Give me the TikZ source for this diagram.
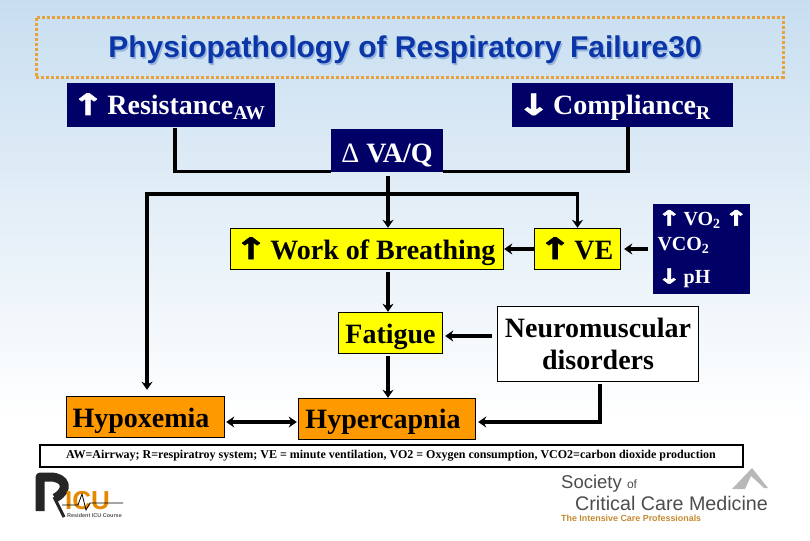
\documentclass[tikz,border=0pt]{standalone}
\usepackage{fontspec}
\setmainfont{Liberation Serif}
\setsansfont{Liberation Sans}
\newfontfamily\arrowfont[FakeBold=2]{DejaVu Sans}
\usepackage{tikz}
\usetikzlibrary{arrows.meta,positioning,calc}
\definecolor{navyc}{HTML}{000066}
\definecolor{yelc}{HTML}{FFFF00}
\definecolor{orgc}{HTML}{FF9900}
\definecolor{dotc}{HTML}{E5A33A}
\definecolor{titc}{HTML}{0A36A8}
\definecolor{bgtop}{HTML}{C8DEF0}
\newcommand{\up}{\scalebox{1.4}[1.05]{\arrowfont ↑}\hspace{-4pt}}
\newcommand{\dn}{\scalebox{1.4}[1.05]{\arrowfont ↓}\hspace{-4pt}}
\tikzset{
  >={Stealth[length=8pt,width=11pt]},
  box/.style={draw=black,line width=1.4pt,inner sep=0pt,font=\bfseries\fontsize{28}{32}\selectfont},
  tx/.style={text height=20pt,text depth=0pt},
  navybox/.style={box,draw=navyc,fill=navyc,text=white},
  yelbox/.style={box,tx,fill=yelc},
  orgbox/.style={box,tx,fill=orgc},
  lk/.style={draw=black,line width=3.5pt},
  lkh/.style={lk,->},
  tit/.style={anchor=base,inner sep=0pt,font=\sffamily\bfseries\fontsize{30}{34}\selectfont},
}
\begin{document}
\begin{tikzpicture}[x=1pt,y=-1pt]
  \useasboundingbox (0,0) rectangle (810,540);
  \fill[top color=bgtop,bottom color=white] (0,0) rectangle (810,420);
  \node[draw=dotc,line width=3pt,dotted,minimum width=747pt,minimum height=60pt] (frame) at (409.5,47.5) {};
  \node[tit,text=titc!25!bgtop] (shadow) at (406.5,59.5) {Physiopathology of Respiratory Failure30};
  \node[tit,text=titc] (title) at (405,58) {Physiopathology of Respiratory Failure30};
  \node[navybox,tx,minimum width=206pt,minimum height=42pt] (res) at (171,105) {\up\ Resistance\textsubscript{AW}\kern5pt};
  \node[navybox,tx,minimum width=219pt,minimum height=42pt] (cmp) at (622.5,105) {\dn\ Compliance\textsubscript{R}\kern17pt};
  \node[navybox,text height=25pt,text depth=0pt,minimum width=110pt,minimum height=41pt] (vaq) at (387,150.5) {{\normalfont Δ} VA/Q};
  \node[yelbox,minimum width=273pt,minimum height=41pt] (wob) at (367,249) {\up\ Work of Breathing\kern4pt};
  \node[yelbox,minimum width=86pt,minimum height=41pt] (ve) at (577.5,249) {\up\ VE\kern3pt};
  \node[navybox,minimum width=96pt,minimum height=89pt,text width=88pt,align=left,font=\bfseries\fontsize{20}{25}\selectfont] (gas) at (701.5,249) {\mbox{\up\ VO\textsubscript{2}\kern-3pt\ \up}\\ VCO\textsubscript{2}\\[8pt] \dn\ pH};
  \node[yelbox,minimum width=104pt,minimum height=41pt] (fat) at (390.5,333) {Fatigue};
  \node[box,fill=white,align=center,minimum width=201pt,minimum height=75pt] (nmd) at (598,344) {Neuromuscular\\disorders};
  \node[orgbox,minimum width=158pt,minimum height=41pt] (hox) at (145.5,417) {Hypoxemia\kern9pt};
  \node[orgbox,text height=18pt,minimum width=177pt,minimum height=41pt] (hcp) at (387,419) {Hypercapnia\kern8pt};
  \node[draw=black,line width=2pt,fill=white,minimum width=703pt,minimum height=22pt,inner sep=0pt,font=\bfseries\fontsize{12}{13}\selectfont] (key) at (391,455.5) {AW=Airrway; R=respiratroy system; VE = minute ventilation, VO2 = Oxygen consumption, VCO2=carbon dioxide production};
  % upper lines
  \coordinate (bus) at (388,194);
  \draw[lk] ([xshift=4pt,yshift=-1pt]res.south) |- (vaq.south west);
  \draw[lk] (vaq.south east) -| ([xshift=5.5pt]cmp.south);
  \draw[lkh] ([xshift=1pt,yshift=-4pt]vaq.south) -- ([xshift=21pt]wob.north);
  \draw[lkh] (bus) -| ([xshift=1.5pt,yshift=6pt]hox.north);
  \draw[lkh] (bus) -| (ve.north);
  % lower lines
  \draw[lkh] (ve.west) -- (wob.east);
  \draw[lkh] ([xshift=-5pt]gas.west) -- ([xshift=3pt]ve.east);
  \draw[lkh] ([xshift=21pt,yshift=-2pt]wob.south) -- ([xshift=-2.5pt]fat.north);
  \draw[lkh] ([xshift=-2.5pt,yshift=-2pt]fat.south) -- ([xshift=1pt]hcp.north);
  \draw[lkh] ([xshift=-5pt,yshift=8pt]nmd.west) -- ([xshift=2pt,yshift=-3pt]fat.east);
  \draw[lkh,<->] ([xshift=1pt,yshift=-5pt]hox.east) -- ([xshift=-1pt,yshift=-3pt]hcp.west);
  \draw[lkh] ([xshift=2pt,yshift=-2pt]nmd.south) |- ([xshift=2pt,yshift=-3pt]hcp.east);
  % left logo
  \draw[black!85,line width=9pt,line join=round] (40,511) -- (40,477) -- (50,477) .. controls (66,477) and (70,490) .. (55,498);
  \draw[black!85,line width=3pt] (54,497) -- (64,517);
  \node[font=\sffamily\bfseries\fontsize{26}{26}\selectfont,text=orgc!90!black,inner sep=0pt,text height=18pt,text depth=0pt] (icu) at (87.5,500) {ICU};
  \draw[black,line width=0.8pt] (62,505) -- (78,505) -- (82,494) -- (86,510) -- (90,503) -- (123,503);
  \node[font=\sffamily\bfseries\fontsize{5.5}{6}\selectfont,text=black!65,inner sep=0pt,anchor=north] (ricu) at (94.5,513) {Resident ICU Course};
  % right logo
  \node[font=\sffamily\fontsize{18.5}{20}\selectfont,text=black!70,anchor=west,inner sep=0pt] (soc) at (561,484) {Society {\fontsize{12}{12}\selectfont of}};
  \node[font=\sffamily\fontsize{19.7}{20}\selectfont,text=black!70,anchor=west,inner sep=0pt] (ccm) at (575,503) {Critical Care Medicine};
  \node[font=\sffamily\bfseries\fontsize{8.9}{9}\selectfont,text=dotc!85!black,anchor=west,inner sep=0pt] (pro) at (561,518) {The Intensive Care Professionals};
  \fill[black!28] (732,489) -- (752,468) -- (768,488) -- (764,488) -- (751,476) -- (745,489) -- cycle;
\end{tikzpicture}
\end{document}
